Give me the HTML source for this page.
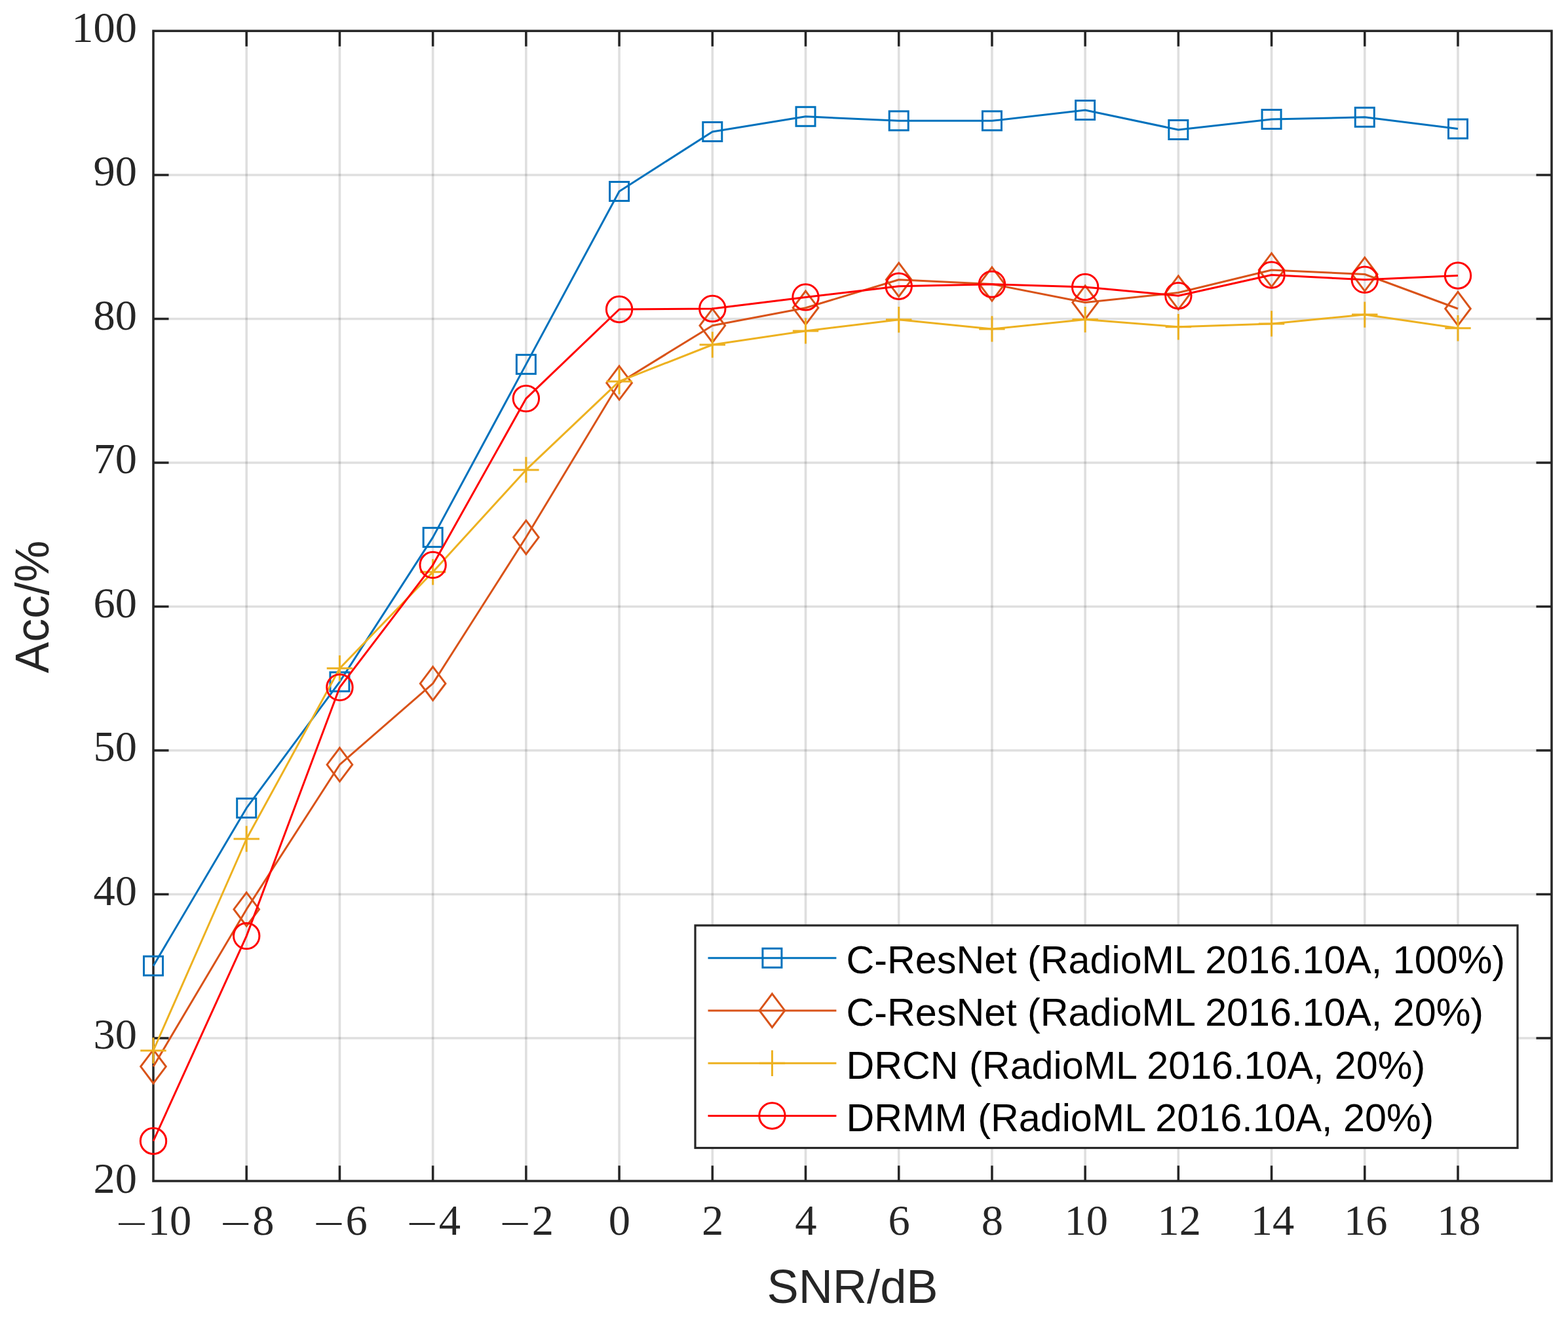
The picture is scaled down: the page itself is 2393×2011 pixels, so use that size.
<!DOCTYPE html><html><head><meta charset="utf-8"><title>Acc vs SNR</title>
<style>html,body{margin:0;padding:0;background:#fff;}body{width:2393px;height:2011px;overflow:hidden;}svg{display:block;}.tk{font-family:"Liberation Serif","Times New Roman",serif;font-size:66.5px;fill:#262626;}.lb{font-family:"Liberation Sans",Arial,Helvetica,sans-serif;font-size:72.3px;fill:#262626;}.lg{font-family:"Liberation Sans",Arial,Helvetica,sans-serif;font-size:59.25px;fill:#000;}</style></head><body>
<svg width="2393" height="2011" viewBox="0 0 2393 2011">
<rect width="2393" height="2011" fill="#fff"/>
<path d="M376.21 47.2V1802" stroke="#262626" stroke-opacity="0.15" stroke-width="3.6" fill="none"/><path d="M518.43 47.2V1802" stroke="#262626" stroke-opacity="0.15" stroke-width="3.6" fill="none"/><path d="M660.64 47.2V1802" stroke="#262626" stroke-opacity="0.15" stroke-width="3.6" fill="none"/><path d="M802.86 47.2V1802" stroke="#262626" stroke-opacity="0.15" stroke-width="3.6" fill="none"/><path d="M945.07 47.2V1802" stroke="#262626" stroke-opacity="0.15" stroke-width="3.6" fill="none"/><path d="M1087.28 47.2V1802" stroke="#262626" stroke-opacity="0.15" stroke-width="3.6" fill="none"/><path d="M1229.5 47.2V1802" stroke="#262626" stroke-opacity="0.15" stroke-width="3.6" fill="none"/><path d="M1371.71 47.2V1802" stroke="#262626" stroke-opacity="0.15" stroke-width="3.6" fill="none"/><path d="M1513.93 47.2V1802" stroke="#262626" stroke-opacity="0.15" stroke-width="3.6" fill="none"/><path d="M1656.14 47.2V1802" stroke="#262626" stroke-opacity="0.15" stroke-width="3.6" fill="none"/><path d="M1798.35 47.2V1802" stroke="#262626" stroke-opacity="0.15" stroke-width="3.6" fill="none"/><path d="M1940.57 47.2V1802" stroke="#262626" stroke-opacity="0.15" stroke-width="3.6" fill="none"/><path d="M2082.78 47.2V1802" stroke="#262626" stroke-opacity="0.15" stroke-width="3.6" fill="none"/><path d="M2225 47.2V1802" stroke="#262626" stroke-opacity="0.15" stroke-width="3.6" fill="none"/><path d="M234 1584H2368" stroke="#262626" stroke-opacity="0.15" stroke-width="3.6" fill="none"/><path d="M234 1364.5H2368" stroke="#262626" stroke-opacity="0.15" stroke-width="3.6" fill="none"/><path d="M234 1145H2368" stroke="#262626" stroke-opacity="0.15" stroke-width="3.6" fill="none"/><path d="M234 925.5H2368" stroke="#262626" stroke-opacity="0.15" stroke-width="3.6" fill="none"/><path d="M234 706H2368" stroke="#262626" stroke-opacity="0.15" stroke-width="3.6" fill="none"/><path d="M234 486.5H2368" stroke="#262626" stroke-opacity="0.15" stroke-width="3.6" fill="none"/><path d="M234 267H2368" stroke="#262626" stroke-opacity="0.15" stroke-width="3.6" fill="none"/>
<path d="M376.21 1802v-23.5M376.21 47.2v23.5M518.43 1802v-23.5M518.43 47.2v23.5M660.64 1802v-23.5M660.64 47.2v23.5M802.86 1802v-23.5M802.86 47.2v23.5M945.07 1802v-23.5M945.07 47.2v23.5M1087.28 1802v-23.5M1087.28 47.2v23.5M1229.5 1802v-23.5M1229.5 47.2v23.5M1371.71 1802v-23.5M1371.71 47.2v23.5M1513.93 1802v-23.5M1513.93 47.2v23.5M1656.14 1802v-23.5M1656.14 47.2v23.5M1798.35 1802v-23.5M1798.35 47.2v23.5M1940.57 1802v-23.5M1940.57 47.2v23.5M2082.78 1802v-23.5M2082.78 47.2v23.5M2225 1802v-23.5M2225 47.2v23.5M234 1584h23.5M2368 1584h-23.5M234 1364.5h23.5M2368 1364.5h-23.5M234 1145h23.5M2368 1145h-23.5M234 925.5h23.5M2368 925.5h-23.5M234 706h23.5M2368 706h-23.5M234 486.5h23.5M2368 486.5h-23.5M234 267h23.5M2368 267h-23.5" stroke="#262626" stroke-width="3.5" fill="none"/>
<rect x="234" y="47.2" width="2134" height="1754.8" fill="none" stroke="#262626" stroke-width="3.5" stroke-linejoin="miter"/>
<text class="tk" transform="translate(176.74 1887.1) scale(1.290 0.88)" y="0">−</text><text class="tk" x="225.7" y="1884">10</text><text class="tk" transform="translate(335.95 1887.1) scale(1.261 0.88)" y="0">−</text><text class="tk" x="385.21" y="1884">8</text><text class="tk" transform="translate(478.17 1887.1) scale(1.261 0.88)" y="0">−</text><text class="tk" x="527.43" y="1884">6</text><text class="tk" transform="translate(620.38 1887.1) scale(1.261 0.88)" y="0">−</text><text class="tk" x="669.64" y="1884">4</text><text class="tk" transform="translate(762.59 1887.1) scale(1.261 0.88)" y="0">−</text><text class="tk" x="811.86" y="1884">2</text><text class="tk" x="945.47" y="1884" text-anchor="middle">0</text><text class="tk" x="1087.68" y="1884" text-anchor="middle">2</text><text class="tk" x="1229.9" y="1884" text-anchor="middle">4</text><text class="tk" x="1372.11" y="1884" text-anchor="middle">6</text><text class="tk" x="1514.33" y="1884" text-anchor="middle">8</text><text class="tk" x="1657.64" y="1884" text-anchor="middle">10</text><text class="tk" x="1799.85" y="1884" text-anchor="middle">12</text><text class="tk" x="1942.07" y="1884" text-anchor="middle">14</text><text class="tk" x="2084.28" y="1884" text-anchor="middle">16</text><text class="tk" x="2226.5" y="1884" text-anchor="middle">18</text><text class="tk" x="209" y="1819.5" text-anchor="end">20</text><text class="tk" x="209" y="1600" text-anchor="end">30</text><text class="tk" x="209" y="1380.5" text-anchor="end">40</text><text class="tk" x="209" y="1161" text-anchor="end">50</text><text class="tk" x="209" y="941.5" text-anchor="end">60</text><text class="tk" x="209" y="722" text-anchor="end">70</text><text class="tk" x="209" y="502.5" text-anchor="end">80</text><text class="tk" x="209" y="283" text-anchor="end">90</text><text class="tk" x="209" y="63.5" text-anchor="end">100</text>
<text class="lb" x="1301" y="1988.2" text-anchor="middle">SNR/dB</text>
<text class="lb" style="font-size:71.4px" transform="translate(73.9 926) rotate(-90)" text-anchor="middle">Acc/%</text>
<polyline points="234,1473.7 376.21,1232.9 518.43,1040.3 660.64,819.9 802.86,555.9 945.07,292 1087.28,201 1229.5,177.8 1371.71,184.3 1513.93,184.3 1656.14,168 1798.35,198 1940.57,182 2082.78,178.8 2225,196.6" fill="none" stroke="#0072BD" stroke-width="3.0" stroke-linejoin="round" stroke-linecap="butt"/>
<rect x="219.5" y="1459.2" width="29" height="29" fill="none" stroke="#0072BD" stroke-width="3.0"/><rect x="361.71" y="1218.4" width="29" height="29" fill="none" stroke="#0072BD" stroke-width="3.0"/><rect x="503.93" y="1025.8" width="29" height="29" fill="none" stroke="#0072BD" stroke-width="3.0"/><rect x="646.14" y="805.4" width="29" height="29" fill="none" stroke="#0072BD" stroke-width="3.0"/><rect x="788.36" y="541.4" width="29" height="29" fill="none" stroke="#0072BD" stroke-width="3.0"/><rect x="930.57" y="277.5" width="29" height="29" fill="none" stroke="#0072BD" stroke-width="3.0"/><rect x="1072.78" y="186.5" width="29" height="29" fill="none" stroke="#0072BD" stroke-width="3.0"/><rect x="1215" y="163.3" width="29" height="29" fill="none" stroke="#0072BD" stroke-width="3.0"/><rect x="1357.21" y="169.8" width="29" height="29" fill="none" stroke="#0072BD" stroke-width="3.0"/><rect x="1499.43" y="169.8" width="29" height="29" fill="none" stroke="#0072BD" stroke-width="3.0"/><rect x="1641.64" y="153.5" width="29" height="29" fill="none" stroke="#0072BD" stroke-width="3.0"/><rect x="1783.85" y="183.5" width="29" height="29" fill="none" stroke="#0072BD" stroke-width="3.0"/><rect x="1926.07" y="167.5" width="29" height="29" fill="none" stroke="#0072BD" stroke-width="3.0"/><rect x="2068.28" y="164.3" width="29" height="29" fill="none" stroke="#0072BD" stroke-width="3.0"/><rect x="2210.5" y="182.1" width="29" height="29" fill="none" stroke="#0072BD" stroke-width="3.0"/>
<polyline points="234,1627.3 376.21,1387.4 518.43,1166.7 660.64,1042.9 802.86,819.8 945.07,584.2 1087.28,496.8 1229.5,469.7 1371.71,426.8 1513.93,433.45 1656.14,461.5 1798.35,446.5 1940.57,412 2082.78,418.5 2225,471" fill="none" stroke="#D95319" stroke-width="3.0" stroke-linejoin="round" stroke-linecap="butt"/>
<path d="M234 1601.7L253.3 1627.3L234 1652.9L214.7 1627.3Z" fill="none" stroke="#D95319" stroke-width="3.0" stroke-miterlimit="10"/><path d="M376.21 1361.8L395.51 1387.4L376.21 1413L356.91 1387.4Z" fill="none" stroke="#D95319" stroke-width="3.0" stroke-miterlimit="10"/><path d="M518.43 1141.1L537.73 1166.7L518.43 1192.3L499.13 1166.7Z" fill="none" stroke="#D95319" stroke-width="3.0" stroke-miterlimit="10"/><path d="M660.64 1017.3L679.94 1042.9L660.64 1068.5L641.34 1042.9Z" fill="none" stroke="#D95319" stroke-width="3.0" stroke-miterlimit="10"/><path d="M802.86 794.2L822.16 819.8L802.86 845.4L783.56 819.8Z" fill="none" stroke="#D95319" stroke-width="3.0" stroke-miterlimit="10"/><path d="M945.07 558.6L964.37 584.2L945.07 609.8L925.77 584.2Z" fill="none" stroke="#D95319" stroke-width="3.0" stroke-miterlimit="10"/><path d="M1087.28 471.2L1106.58 496.8L1087.28 522.4L1067.98 496.8Z" fill="none" stroke="#D95319" stroke-width="3.0" stroke-miterlimit="10"/><path d="M1229.5 444.1L1248.8 469.7L1229.5 495.3L1210.2 469.7Z" fill="none" stroke="#D95319" stroke-width="3.0" stroke-miterlimit="10"/><path d="M1371.71 401.2L1391.01 426.8L1371.71 452.4L1352.41 426.8Z" fill="none" stroke="#D95319" stroke-width="3.0" stroke-miterlimit="10"/><path d="M1513.93 407.85L1533.23 433.45L1513.93 459.05L1494.63 433.45Z" fill="none" stroke="#D95319" stroke-width="3.0" stroke-miterlimit="10"/><path d="M1656.14 435.9L1675.44 461.5L1656.14 487.1L1636.84 461.5Z" fill="none" stroke="#D95319" stroke-width="3.0" stroke-miterlimit="10"/><path d="M1798.35 420.9L1817.65 446.5L1798.35 472.1L1779.05 446.5Z" fill="none" stroke="#D95319" stroke-width="3.0" stroke-miterlimit="10"/><path d="M1940.57 386.4L1959.87 412L1940.57 437.6L1921.27 412Z" fill="none" stroke="#D95319" stroke-width="3.0" stroke-miterlimit="10"/><path d="M2082.78 392.9L2102.08 418.5L2082.78 444.1L2063.48 418.5Z" fill="none" stroke="#D95319" stroke-width="3.0" stroke-miterlimit="10"/><path d="M2225 445.4L2244.3 471L2225 496.6L2205.7 471Z" fill="none" stroke="#D95319" stroke-width="3.0" stroke-miterlimit="10"/>
<polyline points="234,1603 376.21,1280 518.43,1019.8 660.64,872.8 802.86,716.9 945.07,581.9 1087.28,526 1229.5,504.9 1371.71,487.7 1513.93,501.9 1656.14,487.6 1798.35,498.8 1940.57,493.9 2082.78,480.1 2225,500.7" fill="none" stroke="#EDB120" stroke-width="3.0" stroke-linejoin="round" stroke-linecap="butt"/>
<path d="M214.3 1603H253.7M234 1583.3V1622.7" fill="none" stroke="#EDB120" stroke-width="3.0"/><path d="M356.51 1280H395.91M376.21 1260.3V1299.7" fill="none" stroke="#EDB120" stroke-width="3.0"/><path d="M498.73 1019.8H538.13M518.43 1000.1V1039.5" fill="none" stroke="#EDB120" stroke-width="3.0"/><path d="M640.94 872.8H680.34M660.64 853.1V892.5" fill="none" stroke="#EDB120" stroke-width="3.0"/><path d="M783.16 716.9H822.56M802.86 697.2V736.6" fill="none" stroke="#EDB120" stroke-width="3.0"/><path d="M925.37 581.9H964.77M945.07 562.2V601.6" fill="none" stroke="#EDB120" stroke-width="3.0"/><path d="M1067.58 526H1106.98M1087.28 506.3V545.7" fill="none" stroke="#EDB120" stroke-width="3.0"/><path d="M1209.8 504.9H1249.2M1229.5 485.2V524.6" fill="none" stroke="#EDB120" stroke-width="3.0"/><path d="M1352.01 487.7H1391.41M1371.71 468V507.4" fill="none" stroke="#EDB120" stroke-width="3.0"/><path d="M1494.23 501.9H1533.63M1513.93 482.2V521.6" fill="none" stroke="#EDB120" stroke-width="3.0"/><path d="M1636.44 487.6H1675.84M1656.14 467.9V507.3" fill="none" stroke="#EDB120" stroke-width="3.0"/><path d="M1778.65 498.8H1818.05M1798.35 479.1V518.5" fill="none" stroke="#EDB120" stroke-width="3.0"/><path d="M1920.87 493.9H1960.27M1940.57 474.2V513.6" fill="none" stroke="#EDB120" stroke-width="3.0"/><path d="M2063.08 480.1H2102.48M2082.78 460.4V499.8" fill="none" stroke="#EDB120" stroke-width="3.0"/><path d="M2205.3 500.7H2244.7M2225 481V520.4" fill="none" stroke="#EDB120" stroke-width="3.0"/>
<polyline points="234,1741 376.21,1428.1 518.43,1048.8 660.64,862.05 802.86,608.1 945.07,472 1087.28,470.9 1229.5,453.4 1371.71,436.7 1513.93,433.65 1656.14,437.95 1798.35,451.2 1940.57,419.5 2082.78,426.8 2225,420.5" fill="none" stroke="#FF0000" stroke-width="3.0" stroke-linejoin="round" stroke-linecap="butt"/>
<circle cx="234" cy="1741" r="19.7" fill="none" stroke="#FF0000" stroke-width="3.0"/><circle cx="376.21" cy="1428.1" r="19.7" fill="none" stroke="#FF0000" stroke-width="3.0"/><circle cx="518.43" cy="1048.8" r="19.7" fill="none" stroke="#FF0000" stroke-width="3.0"/><circle cx="660.64" cy="862.05" r="19.7" fill="none" stroke="#FF0000" stroke-width="3.0"/><circle cx="802.86" cy="608.1" r="19.7" fill="none" stroke="#FF0000" stroke-width="3.0"/><circle cx="945.07" cy="472" r="19.7" fill="none" stroke="#FF0000" stroke-width="3.0"/><circle cx="1087.28" cy="470.9" r="19.7" fill="none" stroke="#FF0000" stroke-width="3.0"/><circle cx="1229.5" cy="453.4" r="19.7" fill="none" stroke="#FF0000" stroke-width="3.0"/><circle cx="1371.71" cy="436.7" r="19.7" fill="none" stroke="#FF0000" stroke-width="3.0"/><circle cx="1513.93" cy="433.65" r="19.7" fill="none" stroke="#FF0000" stroke-width="3.0"/><circle cx="1656.14" cy="437.95" r="19.7" fill="none" stroke="#FF0000" stroke-width="3.0"/><circle cx="1798.35" cy="451.2" r="19.7" fill="none" stroke="#FF0000" stroke-width="3.0"/><circle cx="1940.57" cy="419.5" r="19.7" fill="none" stroke="#FF0000" stroke-width="3.0"/><circle cx="2082.78" cy="426.8" r="19.7" fill="none" stroke="#FF0000" stroke-width="3.0"/><circle cx="2225" cy="420.5" r="19.7" fill="none" stroke="#FF0000" stroke-width="3.0"/>
<rect x="1061.0" y="1412.0" width="1255" height="339.5" fill="#fff" stroke="#262626" stroke-width="3.2"/>
<path d="M1080.5 1461.7H1276.4" stroke="#0072BD" stroke-width="3.0" fill="none"/>
<rect x="1163.9" y="1447.2" width="29" height="29" fill="none" stroke="#0072BD" stroke-width="3.0"/>
<text class="lg" x="1291.5" y="1485.1">C-ResNet (RadioML 2016.10A, 100%)</text>
<path d="M1080.5 1541.9H1276.4" stroke="#D95319" stroke-width="3.0" fill="none"/>
<path d="M1178.4 1516.3L1197.7 1541.9L1178.4 1567.5L1159.1 1541.9Z" fill="none" stroke="#D95319" stroke-width="3.0" stroke-miterlimit="10"/>
<text class="lg" x="1291.5" y="1565.3">C-ResNet (RadioML 2016.10A, 20%)</text>
<path d="M1080.5 1622.2H1276.4" stroke="#EDB120" stroke-width="3.0" fill="none"/>
<path d="M1158.7 1622.2H1198.1M1178.4 1602.5V1641.9" fill="none" stroke="#EDB120" stroke-width="3.0"/>
<text class="lg" x="1291.5" y="1645.6">DRCN (RadioML 2016.10A, 20%)</text>
<path d="M1080.5 1702.5H1276.4" stroke="#FF0000" stroke-width="3.0" fill="none"/>
<circle cx="1178.4" cy="1702.5" r="19.7" fill="none" stroke="#FF0000" stroke-width="3.0"/>
<text class="lg" x="1291.5" y="1725.9">DRMM (RadioML 2016.10A, 20%)</text>
</svg></body></html>
